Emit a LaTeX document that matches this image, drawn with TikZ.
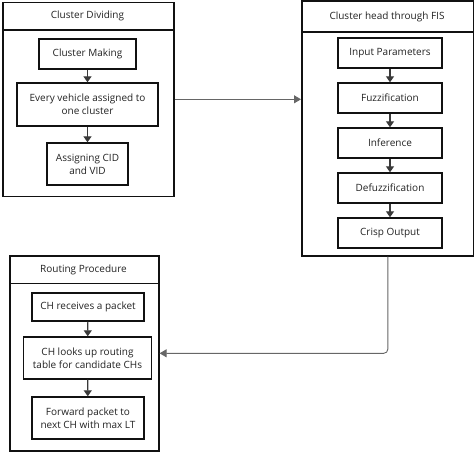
\documentclass[tikz,border=0pt]{standalone}
\usepackage{fontspec}
\setmainfont{Open Sans}
\usetikzlibrary{arrows.meta,positioning,calc}
\definecolor{linec}{HTML}{111111}
\definecolor{arrowc}{HTML}{3A3A3A}
\definecolor{connc}{HTML}{666666}
\definecolor{textc}{HTML}{222222}
\tikzset{
  container/.style={draw=linec,line width=1.6pt,anchor=north west,inner sep=0pt},
  titletext/.style={font=\fontsize{10}{12}\selectfont,text=textc},
  stepbox/.style={draw=linec,line width=1.4pt,align=center,inner sep=0pt,font=\fontsize{10}{13}\selectfont,text=textc},
  flow/.style={draw=arrowc,line width=1.2pt,-{Triangle[width=8pt,length=6pt]}},
  conn/.style={draw=connc,line width=0.9pt,-{Triangle[width=8pt,length=7pt]},rounded corners=4pt},
}
\begin{document}
\begin{tikzpicture}[x=1pt,y=-1pt]
\useasboundingbox (0,0) rectangle (474,451);
% Cluster Dividing
\node[container,minimum width=171pt,minimum height=194pt] (cd) at (2,1.5) {};
\draw[linec,line width=1.2pt] (2,30) -- (173,30);
\node[titletext] (cdt) at (87.5,16) {Cluster Dividing};
\node[stepbox,minimum width=97pt,minimum height=30pt] (cm) at (87.5,54) {Cluster Making};
\node[stepbox,minimum width=141pt,minimum height=43pt] (ev) at (87.5,104.5) {Every vehicle assigned to\\one cluster};
\node[stepbox,minimum width=81pt,minimum height=42pt] (ac) at (87.5,164) {Assigning CID\\and VID};
\draw[flow] (cm) -- (ev);
\draw[flow] (ev) -- (ac);
% Cluster head through FIS
\node[container,minimum width=172pt,minimum height=255pt] (fis) at (301,0) {};
\draw[linec,line width=1.2pt] (301,32) -- (473,32);
\node[titletext] (fist) at (387,16.5) {Cluster head through FIS};
\node[stepbox,minimum width=104pt,minimum height=30pt] (ip) at (390,53) {Input Parameters};
\node[stepbox,minimum width=104pt,minimum height=30pt] (fz) at (390,98) {Fuzzification};
\node[stepbox,minimum width=104pt,minimum height=30pt] (inf) at (390,143) {Inference};
\node[stepbox,minimum width=104pt,minimum height=30pt] (dfz) at (390,188) {Defuzzification};
\node[stepbox,minimum width=104pt,minimum height=30pt] (co) at (390,233) {Crisp Output};
\draw[flow] (ip) -- (fz);
\draw[flow] (fz) -- (inf);
\draw[flow] (inf) -- (dfz);
\draw[flow] (dfz) -- (co);
% Routing Procedure
\node[container,minimum width=149pt,minimum height=195pt] (rp) at (9,255) {};
\draw[linec,line width=1.2pt] (9,283.5) -- (158,283.5);
\node[titletext] (rpt) at (83.5,270) {Routing Procedure};
\node[stepbox,minimum width=112pt,minimum height=28pt] (cr) at (88,307) {CH receives a packet};
\node[stepbox,minimum width=128pt,minimum height=42pt] (cl) at (87.5,358) {CH looks up routing\\table for candidate CHs};
\node[stepbox,minimum width=112pt,minimum height=42pt] (fw) at (88,418) {Forward packet to\\next CH with max LT};
\draw[flow] (cr) -- (cl);
\draw[flow] (cl) -- (fw);
% connectors between containers
\draw[conn] (cd.east) -- (cd.east -| fis.west);
\draw[conn] (fis.south) |- (rp.east);
\end{tikzpicture}
\end{document}
